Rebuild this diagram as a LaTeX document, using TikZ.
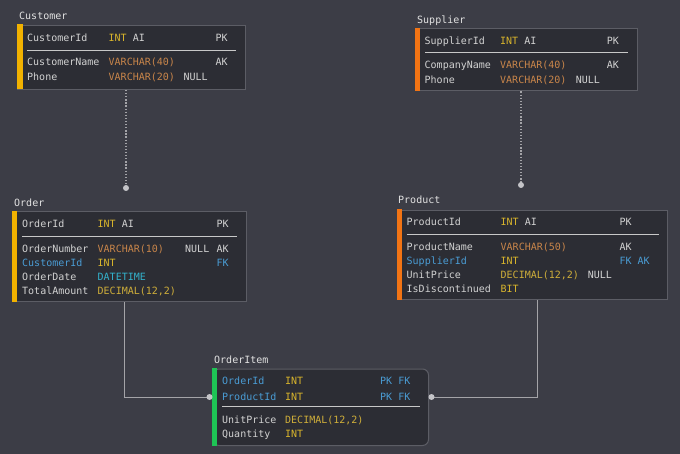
\documentclass[tikz,border=0pt]{standalone}
\usepackage{fontspec}
\setmonofont{DejaVu Sans Mono}
\definecolor{bg}{HTML}{3C3D46}
\definecolor{boxfill}{HTML}{2C2D34}
\definecolor{boxline}{HTML}{5C5D65}
\definecolor{txtc}{HTML}{D2D2D2}
\definecolor{ttlc}{HTML}{E2E2E2}
\definecolor{intc}{HTML}{D8B42C}
\definecolor{decc}{HTML}{CFAE3A}
\definecolor{varc}{HTML}{C8854A}
\definecolor{dtc}{HTML}{33B2CC}
\definecolor{fkc}{HTML}{4A9CD4}
\definecolor{sepc}{HTML}{C8C8C8}
\definecolor{conc}{HTML}{A4A4A8}
\definecolor{dotc}{HTML}{C4C4C8}
\definecolor{accentyellow}{HTML}{F2B200}
\definecolor{accentorange}{HTML}{F27414}
\definecolor{accentgreen}{HTML}{1EC455}
\newcommand\fld[5]{\node[txt,text=#5] (#1) at (#2,#3) {#4};}
\begin{document}
\begin{tikzpicture}[x=1pt,y=-1pt,
  txt/.style={anchor=base west,inner sep=0pt,font=\ttfamily\fontsize{10}{12}\selectfont},
  tbl/.style={draw=boxline,fill=boxfill,line width=1pt},
  sepline/.style={draw=sepc,line width=0.9pt},
  dotline/.style={draw=conc,line width=1.1pt,dash pattern=on 1.3pt off 1.8pt},
  conline/.style={draw=conc,line width=1pt},
  enddot/.style={circle,fill=dotc,inner sep=0pt,minimum size=6pt}]
\fill[bg] (0,0) rectangle (680,454);
\useasboundingbox (0,0) rectangle (680,454);

% ---------- tables ----------
\node[tbl,rectangle,anchor=north west,minimum width=227.5pt,minimum height=64pt] (cust) at (17,25) {};
\fill[accentyellow] (16.5,24.5) rectangle (22.5,89.5);
\node[tbl,rectangle,anchor=north west,minimum width=221.5pt,minimum height=62pt] (supp) at (415,28.5) {};
\fill[accentorange] (414.5,28) rectangle (420,91);
\node[tbl,rectangle,anchor=north west,minimum width=233.5pt,minimum height=90pt] (ord) at (12.5,211.5) {};
\fill[accentyellow] (12,211) rectangle (17,302);
\node[tbl,rectangle,anchor=north west,minimum width=269pt,minimum height=89.5pt] (prod) at (397.5,210) {};
\fill[accentorange] (397,209.5) rectangle (402,300);
\node[tbl,rectangle,rounded corners=6pt,anchor=north west,minimum width=215.5pt,minimum height=76.5pt] (oi) at (212.5,368.5) {};
\fill[accentgreen] (212,368) rectangle (217,445.5);

% ---------- separators ----------
\draw[sepline] (27,50) -- (236,50);
\draw[sepline] (425,52.5) -- (628,52.5);
\draw[sepline] (22,236.5) -- (237,236.5);
\draw[sepline] (406.5,234.5) -- (658.5,234.5);
\draw[sepline] (222,406.5) -- (419.5,406.5);

% ---------- titles ----------
\fld{tcust}{19}{20}{Customer}{ttlc}
\fld{tsupp}{417}{24}{Supplier}{ttlc}
\fld{tord}{14}{206.5}{Order}{ttlc}
\fld{tprod}{398}{204}{Product}{ttlc}
\fld{toi}{214}{363.5}{OrderItem}{ttlc}

% ---------- Customer ----------
\fld{c1n}{27}{41.7}{CustomerId}{txtc}
\fld{c1t}{108.5}{41.7}{\textcolor{intc}{INT} AI}{txtc}
\fld{c1k}{215.5}{41.7}{PK}{txtc}
\fld{c2n}{27}{65.7}{CustomerName}{txtc}
\fld{c2t}{108.5}{65.7}{VARCHAR(40)}{varc}
\fld{c2k}{215.5}{65.7}{AK}{txtc}
\fld{c3n}{27}{80.5}{Phone}{txtc}
\fld{c3t}{108.5}{80.5}{VARCHAR(20)}{varc}
\fld{c3x}{183.3}{80.5}{NULL}{txtc}

% ---------- Supplier ----------
\fld{s1n}{424.5}{44.2}{SupplierId}{txtc}
\fld{s1t}{500}{44.2}{\textcolor{intc}{INT} AI}{txtc}
\fld{s1k}{606.7}{44.2}{PK}{txtc}
\fld{s2n}{424.5}{69}{CompanyName}{txtc}
\fld{s2t}{500}{69}{VARCHAR(40)}{varc}
\fld{s2k}{606.7}{69}{AK}{txtc}
\fld{s3n}{424.5}{83.2}{Phone}{txtc}
\fld{s3t}{500}{83.2}{VARCHAR(20)}{varc}
\fld{s3x}{575.7}{83.2}{NULL}{txtc}

% ---------- Order ----------
\fld{o1n}{22}{227.5}{OrderId}{txtc}
\fld{o1t}{97.5}{227.5}{\textcolor{intc}{INT} AI}{txtc}
\fld{o1k}{216.5}{227.5}{PK}{txtc}
\fld{o2n}{22}{252.4}{OrderNumber}{txtc}
\fld{o2t}{97.5}{252.4}{VARCHAR(10)}{varc}
\fld{o2x}{185}{252.4}{NULL}{txtc}
\fld{o2k}{216.5}{252.4}{AK}{txtc}
\fld{o3n}{22}{266.4}{CustomerId}{fkc}
\fld{o3t}{97.5}{266.4}{INT}{intc}
\fld{o3k}{216.5}{266.4}{FK}{fkc}
\fld{o4n}{22}{280.4}{OrderDate}{txtc}
\fld{o4t}{97.5}{280.4}{DATETIME}{dtc}
\fld{o5n}{22}{294.6}{TotalAmount}{txtc}
\fld{o5t}{97.5}{294.6}{DECIMAL(12,2)}{decc}

% ---------- Product ----------
\fld{p1n}{406.5}{225.6}{ProductId}{txtc}
\fld{p1t}{500.5}{225.6}{\textcolor{intc}{INT} AI}{txtc}
\fld{p1k}{619.3}{225.6}{PK}{txtc}
\fld{p2n}{406.5}{251}{ProductName}{txtc}
\fld{p2t}{500.5}{251}{VARCHAR(50)}{varc}
\fld{p2k}{619.3}{251}{AK}{txtc}
\fld{p3n}{406.5}{264.8}{SupplierId}{fkc}
\fld{p3t}{500.5}{264.8}{INT}{intc}
\fld{p3k}{619.3}{264.8}{FK AK}{fkc}
\fld{p4n}{406.5}{278.6}{UnitPrice}{txtc}
\fld{p4t}{500.5}{278.6}{DECIMAL(12,2)}{decc}
\fld{p4x}{587.7}{278.6}{NULL}{txtc}
\fld{p5n}{406.5}{292.4}{IsDiscontinued}{txtc}
\fld{p5t}{500.5}{292.4}{BIT}{intc}

% ---------- OrderItem ----------
\fld{i1n}{222}{384.6}{OrderId}{fkc}
\fld{i1t}{285}{384.6}{INT}{intc}
\fld{i1k}{380}{384.6}{PK FK}{fkc}
\fld{i2n}{222}{400}{ProductId}{fkc}
\fld{i2t}{285}{400}{INT}{intc}
\fld{i2k}{380}{400}{PK FK}{fkc}
\fld{i3n}{222}{423.3}{UnitPrice}{txtc}
\fld{i3t}{285}{423.3}{DECIMAL(12,2)}{decc}
\fld{i4n}{222}{437.6}{Quantity}{txtc}
\fld{i4t}{285}{437.6}{INT}{intc}

% ---------- connectors ----------
\coordinate (custend) at (126,188);
\coordinate (suppend) at (521,185);
\coordinate (ordout) at (124,302);
\coordinate (prodout) at (537,300);
\coordinate (oiL) at (209.5,397);
\coordinate (oiR) at (431.5,397);

\draw[dotline] (cust.south -| custend) -- (custend);
\draw[dotline] (supp.south -| suppend) -- (suppend);
\draw[conline] (ord.south -| ordout) |- (oiL);
\draw[conline] (prod.south -| prodout) |- (oiR);
\node[enddot] (d1) at (custend) {};
\node[enddot] (d2) at (suppend) {};
\node[enddot] (d3) at (oiL) {};
\node[enddot] (d4) at (oiR) {};
\end{tikzpicture}
\end{document}
